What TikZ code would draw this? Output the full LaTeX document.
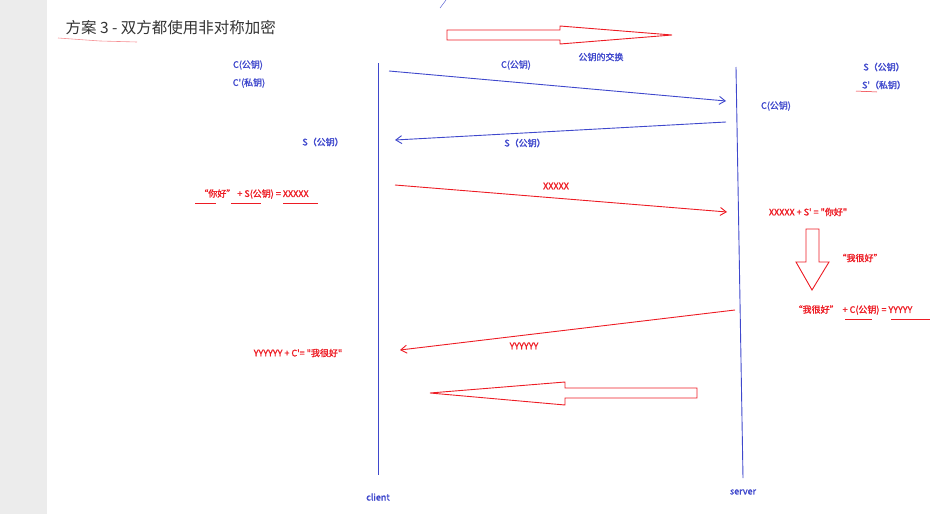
\documentclass[tikz,border=0pt]{standalone}
\usepackage{fontspec}
\usetikzlibrary{arrows.meta}
\newfontfamily\cjk[FakeBold=1.6]{Noto Sans CJK SC}
\newfontfamily\cjkt{Noto Sans CJK SC}
\definecolor{bl}{HTML}{3F48CC}
\definecolor{rd}{HTML}{ED1C24}
\begin{document}
\begin{tikzpicture}[x=1pt,y=-1pt,
  bt/.style={font=\cjk\fontsize{9}{10}\selectfont,text=bl,inner sep=1pt},
  rt/.style={font=\cjk\fontsize{9}{10}\selectfont,text=rd,inner sep=1pt},
  bar/.style={draw=bl,line width=0.9pt},
  barr/.style={draw=rd,line width=0.9pt},
  tip/.style={-{Straight Barb[length=6pt,width=8pt]}}]
\useasboundingbox (0,0) rectangle (935,514);
\fill[gray!15] (0,0) rectangle (47,514);
\node[anchor=west,font=\cjkt\fontsize{15.5}{16}\selectfont,text=black!80] (title) at (62,28) {方案 3 - 双方都使用非对称加密};
\draw[rd!50,line width=0.6pt] (58,38) -- (100,41) -- (137,42);
\draw[bl,line width=0.4pt] (440,8) -- (446,0);
% lifelines
\coordinate (c1) at (378,63); \coordinate (c2) at (378,475);
\coordinate (s1) at (736,67); \coordinate (s2) at (743,478);
\draw[bar] (c1) -- (c2); \draw[bar] (s1) -- (s2);
\node[bt] (cl) at (378,497) {client};
\node[bt] (sv) at (743,492) {server};
% blue texts
\node[bt] (cp) at (248,65) {C(公钥)};
\node[bt] (cs) at (249,83) {C'(私钥)};
\node[bt] (cp2) at (516,65) {C(公钥)};
\node[bt] (ex) at (601,57) {公钥的交换};
\node[bt] (sp) at (323,142) {S（公钥）};
\node[bt] (sp2) at (525,143) {S（公钥）};
\node[bt] (sp3) at (884,67) {S（公钥）};
\node[bt] (ss3) at (884,85) {S'（私钥）};
\draw[rd,line width=0.5pt] (856,91) -- (877,92);
\node[bt] (cp3) at (776,106) {C(公钥)};
% blue arrows
\coordinate (a1) at (389,71); \coordinate (a2) at (726,101);
\coordinate (a3) at (726,122); \coordinate (a4) at (395,140);
\draw[bar,tip] (a1) -- (a2);
\draw[bar,tip] (a3) -- (a4);
% red arrows
\coordinate (r1) at (395,185); \coordinate (r2) at (727,212);
\draw[barr,tip] (r1) -- (r2);
\node[rt] (x1) at (556,186) {XXXXX};
\node[rt] (e1) at (254,194) {“你好” + S(公钥) = XXXXX};
\draw[rd,line width=0.5pt] (195,203)--(216,203) (231,203)--(261,203) (283,203)--(318,203);
\node[rt] (e2) at (808,212) {XXXXX + S' = "你好"};
\draw[rd,line width=0.9pt,fill=white] (806,229) -- (819,229) -- (819,262) -- (829,262) -- (812,290) -- (796,262) -- (806,262) -- cycle;
\node[rt] (h1) at (860,258) {“我很好”};
\node[rt] (e3) at (853,310) {“我很好”\ \ + C(公钥) = YYYYY};
\draw[rd,line width=0.5pt] (845,319)--(872,319) (891,319)--(930,319);
\coordinate (r3) at (735,310); \coordinate (r4) at (400,350);
\draw[barr,tip] (r3) -- (r4);
\node[rt] (y1) at (524,346) {YYYYYY};
\node[rt] (e4) at (298,353) {YYYYYY + C'= "我很好"};
% hollow arrows
\draw[rd,line width=0.9pt] (447,30) -- (560,30) -- (560,26) -- (672,35) -- (560,44) -- (560,40) -- (447,40) -- cycle;
\draw[rd,line width=0.9pt] (697,388) -- (565,388) -- (565,382) -- (430,393) -- (565,405) -- (565,398) -- (697,398) -- cycle;
\end{tikzpicture}
\end{document}
